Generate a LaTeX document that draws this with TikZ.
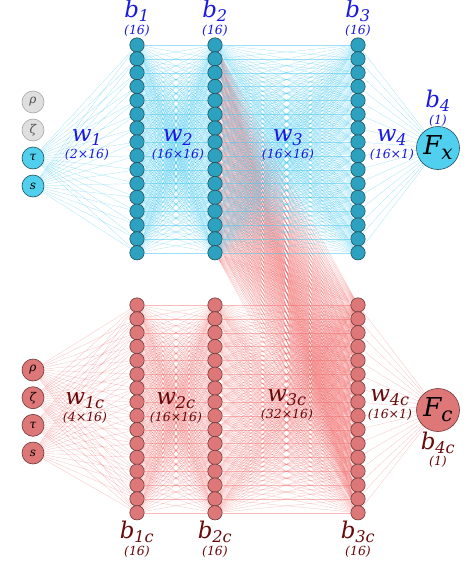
\documentclass[tikz,border=0pt]{standalone}
\usepackage{fontspec}
\newfontfamily\labfont{DejaVu Serif}
\usepackage{tikz}
\usetikzlibrary{positioning,backgrounds}

\definecolor{topfill}{RGB}{44,162,192}
\definecolor{topin}{RGB}{80,208,238}
\definecolor{topedge}{RGB}{30,80,95}
\definecolor{botfill}{RGB}{222,120,120}
\definecolor{botedge}{RGB}{110,55,55}
\definecolor{toplab}{RGB}{25,25,225}
\definecolor{botlab}{RGB}{105,10,10}
\definecolor{toplink}{RGB}{70,200,240}
\definecolor{botlink}{RGB}{240,100,100}

% layer label: letter, index, size
\newcommand{\lyr}[3]{{\fontsize{23}{23}\selectfont #1\textsubscript{#2}}\\{\fontsize{12.5}{12.5}\selectfont(#3)}}

\begin{document}
\begin{tikzpicture}[
                x=1pt,y=-1pt,
                node distance=1pt,
                tnode/.style={circle,draw=topedge,fill=topfill,minimum size=14.4pt,inner sep=0pt,line width=0.6pt},
                bnode/.style={circle,draw=botedge,fill=botfill,minimum size=14.4pt,inner sep=0pt,line width=0.6pt},
                tin/.style={circle,draw=topedge,fill=topin,minimum size=22pt,inner sep=0pt,line width=0.6pt,font=\labfont\itshape\fontsize{12}{12}\selectfont},
                gin/.style={tin,draw=gray!70,fill=gray!25,text=gray!60!black},
                bin/.style={tin,draw=botedge,fill=botfill},
                lab/.style={align=center,inner sep=0pt,font=\labfont\itshape\fontsize{12.5}{16.5}\selectfont},
                tlink/.style={toplink,line width=0.25pt,opacity=0.55},
                blink/.style={botlink,line width=0.25pt,opacity=0.45}
            ]
                \useasboundingbox (0,0) rectangle (474,570);
                % hidden layers
                \foreach \k in {1,...,16} {
                    \node [tnode] (h1-\k) at (137,{45+(\k-1)*13.85}) {};
                    \node [tnode] (h2-\k) at (215,{45+(\k-1)*13.85}) {};
                    \node [tnode] (h3-\k) at (358,{45+(\k-1)*13.85}) {};
                    \node [bnode] (h1c-\k) at (137,{305+(\k-1)*13.85}) {};
                    \node [bnode] (h2c-\k) at (215,{305+(\k-1)*13.85}) {};
                    \node [bnode] (h3c-\k) at (358,{305+(\k-1)*13.85}) {};
                }
                % inputs and outputs
                \node [gin] (in-1) at (33,102) {ρ};
                \node [gin] (in-2) at (33,130) {ζ};
                \node [tin] (in-3) at (33,158) {τ};
                \node [tin] (in-4) at (33,186) {s};
                \node [bin] (inc-1) at (33,370) {ρ};
                \node [bin] (inc-2) at (33,397.7) {ζ};
                \node [bin] (inc-3) at (33,425.3) {τ};
                \node [bin] (inc-4) at (33,453) {s};
                \node [tin,minimum size=43pt,font=\labfont\itshape\fontsize{26}{26}\selectfont] (fx) at (438,148) {F\raisebox{-5pt}{\fontsize{20}{20}\selectfont x}};
                \node [bin,minimum size=43pt,font=\labfont\itshape\fontsize{26}{26}\selectfont] (fc) at (438,410) {F\raisebox{-5pt}{\fontsize{20}{20}\selectfont c}};

                \begin{scope}[on background layer]
                    \foreach \i in {3,4} {
                        \foreach \j in {1,...,16} {
                            \draw [tlink] (in-\i) -- (h1-\j);
                        }
                    }
                    \foreach \i in {1,...,4} {
                        \foreach \j in {1,...,16} {
                            \draw [blink] (inc-\i) -- (h1c-\j);
                        }
                    }
                    \foreach \i in {1,...,16} {
                        \foreach \j in {1,...,16} {
                            \draw [blink] (h2-\i) -- (h3c-\j);
                            \draw [blink] (h1c-\i) -- (h2c-\j);
                            \draw [blink] (h2c-\i) -- (h3c-\j);
                            \draw [tlink] (h1-\i) -- (h2-\j);
                            \draw [tlink] (h2-\i) -- (h3-\j);
                        }
                        \draw [tlink] (h3-\i) -- (fx);
                        \draw [blink] (h3c-\i) -- (fc);
                    }
                \end{scope}

                % labels, top network
                \node [lab,text=toplab,above=1pt of h1-1] {\lyr{b}{1}{16}};
                \node [lab,text=toplab,above=1pt of h2-1] {\lyr{b}{2}{16}};
                \node [lab,text=toplab,above=1pt of h3-1] {\lyr{b}{3}{16}};
                \node [lab,text=toplab,above=0pt of fx] {\lyr{b}{4}{1}};
                \node [lab,text=toplab] (w1) at (87,145) {\lyr{w}{1}{2×16}};
                \node [lab,text=toplab] (w2) at (178,145) {\lyr{w}{2}{16×16}};
                \node [lab,text=toplab] (w3) at (288,145) {\lyr{w}{3}{16×16}};
                \node [lab,text=toplab] (w4) at (392,145) {\lyr{w}{4}{16×1}};
                % labels, bottom network
                \node [lab,text=botlab,below=1pt of h1c-16] {\lyr{b}{1c}{16}};
                \node [lab,text=botlab,below=1pt of h2c-16] {\lyr{b}{2c}{16}};
                \node [lab,text=botlab,below=1pt of h3c-16] {\lyr{b}{3c}{16}};
                \node [lab,text=botlab,below=0pt of fc] {\lyr{b}{4c}{1}};
                \node [lab,text=botlab] (w1c) at (85,408) {\lyr{w}{1c}{4×16}};
                \node [lab,text=botlab] (w2c) at (176,408) {\lyr{w}{2c}{16×16}};
                \node [lab,text=botlab] (w3c) at (287,405) {\lyr{w}{3c}{32×16}};
                \node [lab,text=botlab] (w4c) at (390,405) {\lyr{w}{4c}{16×1}};
            \end{tikzpicture}
\end{document}
